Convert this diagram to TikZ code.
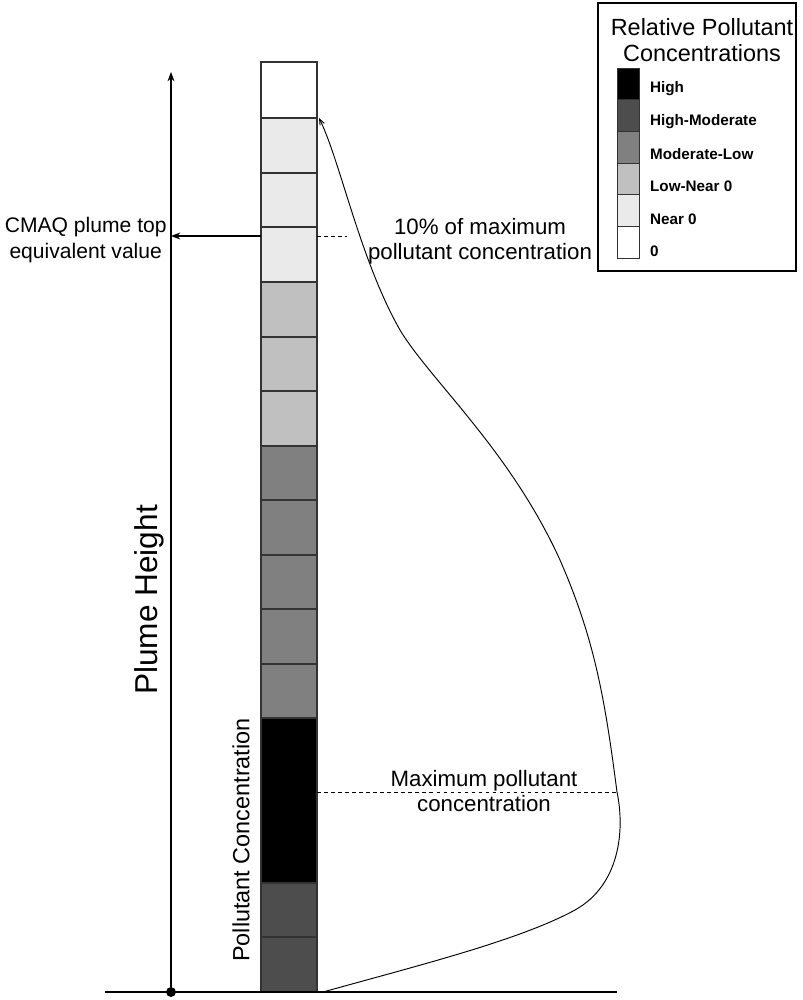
\documentclass[tikz,border=0pt]{standalone}
\usepackage{fontspec}
\setmainfont{Liberation Sans}
\usetikzlibrary{arrows.meta}
\definecolor{cA}{gray}{0}
\definecolor{cB}{HTML}{4D4D4D}
\definecolor{cC}{HTML}{808080}
\definecolor{cD}{HTML}{C0C0C0}
\definecolor{cE}{HTML}{EAEAEA}
\begin{document}
\begin{tikzpicture}[x=0.03cm,y=-0.03cm,
  cell/.style={draw=black!80,line width=0.9pt},
  lbl/.style={font=\fontsize{19}{21}\selectfont,align=center},
  leg/.style={font=\bfseries\fontsize{13}{15}\selectfont,anchor=west}]
\useasboundingbox (0,0) rectangle (802,1000);
% column
\foreach \a/\b/\c in {62/118/white,118/173/cE,173/227/cE,227/282/cE,282/337/cD,337/391/cD,391/446/cD,446/500/cC,500/555/cC,555/609/cC,609/664/cC,664/718/cC,718/883/cA,883/937/cB,937/992/cB}
  \filldraw[cell,fill=\c] (261,\a) rectangle (317,\b);
\coordinate (top) at (319,118);
\coordinate (cellmid) at (261,236);
% baseline and axis
\coordinate (b0) at (105,992); \coordinate (b1) at (617,992);
\draw[line width=0.9pt] (b0) -- (b1);
\node[circle,fill,inner sep=3pt] (dot) at (171,992) {};
\coordinate (axtop) at (171,72);
\draw[line width=1pt,-{Stealth[length=8pt,width=6pt]}] (dot.center) -- (axtop);
\node[font=\fontsize{27}{29}\selectfont,rotate=90] (ph) at (149,600) {Plume Height};
\node[font=\fontsize{20}{22}\selectfont,rotate=90] (pc) at (241,840) {Pollutant Concentration};
% CMAQ
\node[font=\fontsize{18}{22}\selectfont,align=center,anchor=east,inner sep=1pt] (cmaq) at (168,240) {CMAQ plume top\\equivalent value};
\draw[line width=1pt,-{Stealth[length=8pt,width=6pt]}] (cellmid) -- (171,236);
% curve
\draw[line width=0.8pt,-{Straight Barb[length=5pt,width=4pt]}] (323,992) .. controls (420,965) and (520,940) .. (575,910)
  .. controls (620,885) and (625,830) .. (617,792)
  .. controls (605,700) and (595,640) .. (560,560)
  .. controls (510,450) and (430,380) .. (400,330)
  .. controls (360,260) and (340,160) .. (top);
\coordinate (d1) at (347,236); \coordinate (d2) at (617,792);
\draw[dashed,line width=0.6pt] (317,236) -- (d1);
\draw[dashed,line width=0.6pt] (317,792) -- (d2);
\node[lbl] (ten) at (480,241) {10\% of maximum\\pollutant concentration};
\node[lbl] (mx) at (484,791) {Maximum pollutant\\concentration};
% legend
\draw[line width=0.9pt] (598,3) rectangle (796,271);
\node[font=\fontsize{20}{22}\selectfont,align=center] (lt) at (702,40) {Relative Pollutant\\Concentrations};
\foreach \i/\c/\t in {0/cA/High,1/cB/High-Moderate,2/cC/Moderate-Low,3/cD/Low-Near 0,4/cE/Near 0,5/white/0}{
  \filldraw[cell,line width=0.7pt,fill=\c] (617,{68+\i*31.7}) rectangle (639,{68+(\i+1)*31.7});
  \node[leg] (l\i) at (646,{89+\i*32.5}) {\t};
}
\end{tikzpicture}
\end{document}
